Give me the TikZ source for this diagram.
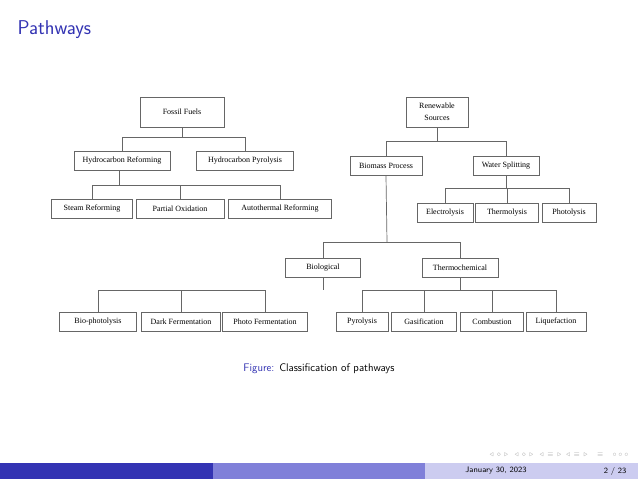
\documentclass[tikz,border=0pt]{standalone}
\usepackage{fontspec}
\newfontfamily\tms{Liberation Serif}
\begin{document}
\begin{tikzpicture}[x=1pt,y=-1pt,
 bx/.style={draw=black!60,line width=0.6pt,inner sep=0pt,minimum height=19pt,font=\tms\fontsize{8}{9}\selectfont,align=center},
 ln/.style={draw=black!60,line width=0.7pt}]
\definecolor{bb}{RGB}{51,51,179}
\definecolor{bm}{RGB}{128,128,217}
\definecolor{bl}{RGB}{204,204,240}
\useasboundingbox (0,0) rectangle (638,479);
\fill[white] (0,0) rectangle (638,479);
\node[anchor=west,text=bb,font=\sffamily\fontsize{20}{24}\selectfont] (title) at (14,30) {Pathways};
% fossil
\node[bx,minimum width=84pt,minimum height=30pt] (ff) at (182,112) {Fossil Fuels};
\node[bx,minimum width=96pt] (hr) at (122,161) {Hydrocarbon Reforming};
\node[bx,minimum width=97pt] (hp) at (245,161) {Hydrocarbon Pyrolysis};
\node[bx,minimum width=81pt] (sr) at (92,209) {Steam Reforming};
\node[bx,minimum width=88pt] (po) at (180,209) {Partial Oxidation};
\node[bx,minimum width=103pt] (ar) at (280,209) {Autothermal Reforming};
\draw[ln] (ff.south) -- (182,137) -| (hr.north);
\draw[ln] (182,137) -| (hp.north);
\draw[ln] (119,171) -- (119,185);
\draw[ln] (sr.north) |- (280,185) -- (ar.north);
\draw[ln] (po.north) -- (180,185);
% renewable
\node[bx,minimum width=62pt,minimum height=30pt] (rs) at (437,112) {Renewable\\[3pt]Sources};
\node[bx,minimum width=72pt] (bp) at (386,166) {Biomass Process};
\node[bx,minimum width=66pt] (ws) at (506,166) {Water Splitting};
\node[bx,minimum width=56pt] (el) at (445,213) {Electrolysis};
\node[bx,minimum width=63pt] (th) at (507,213) {Thermolysis};
\node[bx,minimum width=54pt] (ph) at (569,213) {Photolysis};
\draw[ln] (rs.south) -- (437,141) -| (bp.north);
\draw[ln] (437,141) -| (ws.north);
\draw[ln] (ws.south) -- (506,188);
\draw[ln] (el.north) |- (569,188) -- (ph.north);
\draw[ln] (th.north) -- (507,188);
\node[bx,minimum width=75pt] (bio) at (323,268) {Biological};
\node[bx,minimum width=76pt] (tc) at (460,268) {Thermochemical};
\draw[ln] (bp.south) -- (387,242);
\draw[ln] (bio.north) |- (460,242) -- (tc.north);
\node[bx,minimum width=52pt] (py) at (362,322) {Pyrolysis};
\node[bx,minimum width=65pt] (ga) at (424,322) {Gasification};
\node[bx,minimum width=63pt] (co) at (492,322) {Combustion};
\node[bx,minimum width=60pt] (lq) at (556,322) {Liquefaction};
\draw[ln] (tc.south) -- (460,290);
\draw[ln] (py.north) |- (556,290) -- (lq.north);
\draw[ln] (ga.north) -- (424,290);
\draw[ln] (co.north) -- (492,290);
\node[bx,minimum width=77pt] (bph) at (98,322) {Bio-photolysis};
\node[bx,minimum width=79pt] (df) at (181,322) {Dark Fermentation};
\node[bx,minimum width=85pt] (pf) at (265,322) {Photo Fermentation};
\draw[ln] (bio.south) -- (323,290);
\draw[ln] (bph.north) |- (265,290) -- (pf.north);
\draw[ln] (df.north) -- (181,290);
% caption
\node[font=\sffamily\fontsize{11}{13}\selectfont] (cap) at (319,369) {\textcolor{bb}{Figure:} Classification of pathways};
% footer
\fill[bb] (0,463) rectangle (213,479);
\fill[bm] (213,463) rectangle (425,479);
\fill[bl] (425,463) rectangle (638,479);
\node[font=\sffamily\fontsize{8}{9}\selectfont] (date) at (496,471) {January 30, 2023};
\node[anchor=east,font=\sffamily\fontsize{8}{9}\selectfont] (pg) at (630,471) {2 / 23};
\node[anchor=east,text=black!35,font=\sffamily\fontsize{7}{8}\selectfont] (nav) at (632,455) {$\triangleleft\,\diamond\,\triangleright\;\;\triangleleft\,\diamond\,\triangleright\;\;\triangleleft\,\equiv\,\triangleright\;\;\triangleleft\,\equiv\,\triangleright\quad\equiv\quad\circ\circ\circ$};
\end{tikzpicture}
\end{document}
